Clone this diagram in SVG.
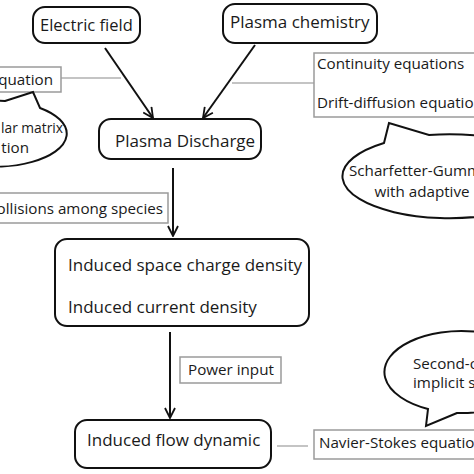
<svg xmlns="http://www.w3.org/2000/svg" width="474" height="474" viewBox="0 0 474 474">
<style>
text{font-family:"Open Sans","Noto Sans","DejaVu Sans",sans-serif;font-size:15.2px;fill:#1a1a1a}
text.big{font-size:17px}
.node{fill:#fff;stroke:#111;stroke-width:2}
.note{fill:#fff;stroke:#9a9a9a;stroke-width:1.5}
.call{fill:#fff;stroke:#111;stroke-width:2;stroke-linejoin:miter}
.gl{stroke:#b0b0b0;stroke-width:1.5;fill:none}
.ar{stroke:#111;stroke-width:2;fill:none;marker-end:url(#v)}
</style>
<defs>
<marker id="v" viewBox="0 0 12 12" refX="11" refY="6" markerWidth="12" markerHeight="12" markerUnits="userSpaceOnUse" orient="auto">
<path d="M1,1 L11,6 L1,11" fill="none" stroke="#111" stroke-width="1.8"/>
</marker>
</defs>
<rect width="474" height="474" fill="#fff"/>
<g id="connectors">
<line class="ar" x1="105" y1="48" x2="153" y2="118"/>
<line class="ar" x1="255" y1="45" x2="203" y2="118"/>
<line class="ar" x1="173" y1="168" x2="173" y2="236"/>
<line class="ar" x1="170" y1="332" x2="170" y2="418"/>
<line class="gl" x1="61" y1="78" x2="121" y2="78"/>
<line class="gl" x1="232" y1="83" x2="314" y2="83"/>
<line class="gl" x1="277" y1="446" x2="308" y2="446"/>
</g>
<g id="electric-field">
<rect class="node" x="33" y="7" width="107" height="36" rx="12"/>
<text class="big" x="40" y="31" style="font-size:16.5px">Electric field</text>
</g>
<g id="plasma-chemistry">
<rect class="node" x="223" y="4" width="154" height="39" rx="12"/>
<text class="big" x="230" y="28">Plasma chemistry</text>
</g>
<g id="plasma-discharge">
<rect class="node" x="99" y="119" width="162" height="40" rx="12"/>
<text class="big" x="115" y="147">Plasma Discharge</text>
</g>
<g id="induced-space-charge">
<rect class="node" x="55" y="239" width="254" height="87" rx="12"/>
<text class="big" x="68" y="271">Induced space charge density</text>
<text class="big" x="68" y="313">Induced current density</text>
</g>
<g id="induced-flow">
<rect class="node" x="75" y="420" width="196" height="48" rx="12"/>
<text class="big" x="87" y="446">Induced flow dynamic</text>
</g>
<g id="equation-note">
<rect class="note" x="-5" y="67" width="66" height="25"/>
<text x="53" y="85" text-anchor="end">quation</text>
</g>
<g id="continuity-note">
<rect class="note" x="314" y="53" width="170" height="64"/>
<text x="317" y="69">Continuity equations</text>
<text x="317" y="108">Drift-diffusion equatio</text>
</g>
<g id="collisions-note">
<rect class="note" x="-5" y="193" width="173" height="30"/>
<text x="163" y="214" text-anchor="end">ollisions among species</text>
</g>
<g id="power-note">
<rect class="note" x="180" y="357" width="101" height="26"/>
<text x="188" y="375">Power input</text>
</g>
<g id="navier-note">
<rect class="note" x="314" y="430" width="170" height="29"/>
<text x="319" y="448">Navier-Stokes equatio</text>
</g>
<g id="matrix-callout">
<path class="call" d="M5,101 L33,92 L40,108 A72 33 0 1 1 5,101 Z"/>
<text x="1" y="133" textLength="62" lengthAdjust="spacingAndGlyphs" style="font-size:14.6px">lar matrix</text>
<text x="29" y="153" text-anchor="end">tion</text>
</g>
<g id="sg-callout">
<path class="call" d="M384,143 L389,123 L429,135 A107 42 0 1 1 384,143 Z"/>
<text x="349" y="176">Scharfetter-Gumm</text>
<text x="422" y="197" text-anchor="middle">with adaptive</text>
</g>
<g id="second-order-callout">
<path class="call" d="M457,413 L426,426 L428,409 A77 41 0 1 1 457,413 Z"/>
<text x="413" y="369">Second-o</text>
<text x="413" y="388">implicit s</text>
</g>
</svg>
